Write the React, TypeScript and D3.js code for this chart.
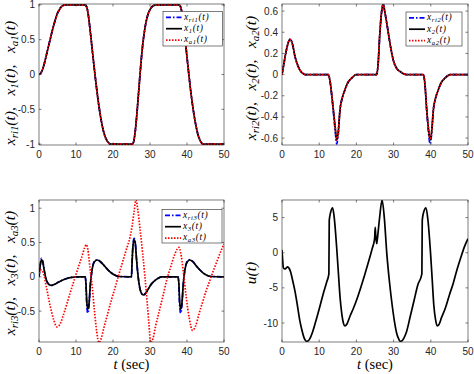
import React from 'react';
import * as d3 from 'd3';

const W = 474;
const H = 374;
const xTicks = [0, 10, 20, 30, 40, 50];

// ---- panel 1: x_ri1, x_1, x_a1 (they sit on top of each other)
const t1 = [0, 0.5, 1, 1.5, 2, 2.5, 3, 3.5, 4, 4.5, 5, 5.5, 6, 6.5, 7, 12.4, 12.8, 13.2, 13.6, 14, 14.5, 15, 15.5, 16, 16.5, 17, 17.5, 18, 18.5, 19, 19.5,
  25.3, 25.6, 26, 26.4, 26.8, 27.2, 27.6, 28, 28.5, 29, 29.5, 30, 30.5, 31, 31.5,
  37.8, 38.2, 38.6, 39, 39.4, 39.9, 40.4, 40.9, 41.4, 41.9, 42.4, 42.9, 43.4, 43.9, 44.4, 50];
const x1 = [0, 0.02, 0.08, 0.17, 0.28, 0.39, 0.5, 0.61, 0.71, 0.8, 0.88, 0.93, 0.97, 0.99, 1, 1, 0.98, 0.9, 0.74, 0.55, 0.3, 0.06, -0.17, -0.38, -0.56, -0.71, -0.83, -0.91, -0.96, -0.99, -1,
  -1, -0.96, -0.82, -0.6, -0.34, -0.07, 0.19, 0.41, 0.62, 0.77, 0.87, 0.93, 0.97, 0.99, 1,
  1, 0.98, 0.9, 0.76, 0.57, 0.3, 0.05, -0.19, -0.4, -0.58, -0.73, -0.85, -0.93, -0.98, -1, -1];
const xr1 = x1;
const xa1 = x1;

// ---- panel 2
const t2 = [0, 0.5, 1, 1.5, 2.15, 2.8, 3.5, 4.2, 4.8, 5.5, 6.2, 7, 12.45, 12.9, 13.4, 13.8, 14.3, 14.7, 15.1, 15.6, 16.2, 16.9, 17.8, 18.7, 20,
  25.4, 25.8, 26.3, 26.8, 27.2, 27.6, 28.1, 28.6, 29.2, 29.9, 30.8, 31.7, 33.5,
  38.0, 38.4, 38.9, 39.4, 39.8, 40.2, 40.7, 41.3, 42.0, 42.9, 43.8, 45.2, 50];
const x2 = [0, 0.1, 0.2, 0.28, 0.334, 0.29, 0.17, 0.09, 0.044, 0.015, 0, 0, 0, -0.06, -0.2, -0.33, -0.5, -0.616, -0.55, -0.33, -0.22, -0.145, -0.07, -0.034, 0,
  0, 0.08, 0.39, 0.6, 0.667, 0.6, 0.5, 0.39, 0.26, 0.139, 0.06, 0.03, 0,
  0, -0.08, -0.33, -0.52, -0.616, -0.55, -0.33, -0.22, -0.145, -0.07, -0.034, 0, 0];
const xr2 = [0, 0.1, 0.2, 0.28, 0.334, 0.29, 0.17, 0.09, 0.044, 0.015, 0, 0, 0, -0.06, -0.21, -0.35, -0.53, -0.655, -0.57, -0.33, -0.22, -0.145, -0.07, -0.034, 0,
  0, 0.08, 0.39, 0.6, 0.667, 0.6, 0.5, 0.39, 0.26, 0.139, 0.06, 0.03, 0,
  0, -0.08, -0.34, -0.55, -0.655, -0.57, -0.33, -0.22, -0.145, -0.07, -0.034, 0, 0];
const xa2 = x2;

// ---- panel 3
const t3 = [0, 0.3, 0.65, 1.0, 1.4, 1.9, 2.5, 3.3, 4.2, 5.2, 6.3, 7.5, 8.8, 10, 12.5, 12.7, 12.9, 13.2, 13.5, 13.9, 14.4, 15.0, 15.8, 16.6, 17.5, 18.5, 19.5, 20.5, 21.5,
  25.0, 25.15, 25.4, 25.7, 26.0, 26.3, 26.7, 27.2, 27.7, 28.2, 28.8, 29.5, 30.3, 31.2, 32.2, 33.2,
  37.6, 37.8, 38.0, 38.3, 38.6, 39.0, 39.5, 40.1, 40.8, 41.6, 42.5, 43.5, 44.5, 45.5, 46.5, 50];
const x3 = [0, 0.15, 0.25, 0.22, 0.1, -0.03, -0.1, -0.125, -0.11, -0.08, -0.05, -0.025, -0.008, 0, 0, -0.1, -0.35, -0.47, -0.4, -0.1, 0.12, 0.22, 0.245, 0.22, 0.17, 0.11, 0.06, 0.025, 0.005,
  0, 0.2, 0.45, 0.54, 0.5, 0.3, 0.05, -0.15, -0.24, -0.265, -0.24, -0.18, -0.11, -0.06, -0.02, 0,
  0, -0.1, -0.35, -0.47, -0.4, -0.1, 0.12, 0.22, 0.245, 0.22, 0.16, 0.1, 0.05, 0.02, 0.005, 0];
const xr3 = [0, 0.16, 0.27, 0.23, 0.1, -0.03, -0.1, -0.125, -0.11, -0.08, -0.05, -0.025, -0.008, 0, 0, -0.12, -0.4, -0.53, -0.43, -0.1, 0.12, 0.23, 0.25, 0.22, 0.17, 0.11, 0.06, 0.025, 0.005,
  0, 0.21, 0.47, 0.56, 0.51, 0.3, 0.05, -0.15, -0.24, -0.265, -0.24, -0.18, -0.11, -0.06, -0.02, 0,
  0, -0.12, -0.4, -0.53, -0.43, -0.1, 0.12, 0.23, 0.25, 0.22, 0.16, 0.1, 0.05, 0.02, 0.005, 0];
const ta3 = [0, 0.6, 1.2, 2, 3, 4, 4.8, 5.6, 6.5, 7.5, 8.5, 9.5, 10.5, 11.5, 12.3, 12.8, 13.2, 13.8, 14.3, 15, 15.6, 16.2, 16.8, 17.5, 18.5, 19.5, 20.5, 21.4, 22.5, 23.5, 24.6, 25.2, 25.7, 26.2,
  26.7, 27.3, 28, 28.6, 29.2, 29.7, 30.2, 30.8, 31.5, 32.5, 33.5, 34.5, 35.5, 36.5, 37.3, 37.8, 38.3, 39, 39.8, 40.6, 41.5, 42.3, 43.2, 44.2, 45.2, 46.2, 47.2, 48.2, 49.2, 50];
const xa3 = [0.05, 0.1, 0.05, -0.15, -0.42, -0.63, -0.73, -0.7, -0.57, -0.4, -0.22, -0.05, 0.12, 0.28, 0.42, 0.47, 0.4, 0.12, -0.1, -0.5, -0.8, -0.96, -0.9, -0.75, -0.55, -0.35, -0.17, 0, 0.2, 0.38, 0.58, 0.75, 0.95, 1.12,
  0.98, 0.7, 0.35, 0.02, -0.35, -0.68, -0.96, -0.9, -0.72, -0.5, -0.28, -0.05, 0.13, 0.3, 0.4, 0.43, 0.35, 0.08, -0.3, -0.6, -0.78, -0.72, -0.55, -0.37, -0.2, -0.05, 0.1, 0.24, 0.38, 0.48];

// ---- panel 4: u(t)
const t4 = [0, 0.15, 0.35, 0.7, 1.1, 1.5, 1.9, 2.3, 2.8, 3.5, 4.2, 4.8, 5.3, 5.8, 6.2, 6.6, 7.1, 7.6, 8.2, 9.0, 10.0, 11.0, 12.0, 12.6, 12.7, 13.1, 13.6, 14.0, 14.7, 15.2, 15.6, 16.1, 16.5, 16.9,
  17.5, 18.3, 19.2, 20.2, 21.2, 22.2, 23.2, 24.2, 24.9, 25.05, 25.2, 25.45, 25.55, 26.2, 26.9, 27.5, 28.2, 28.9, 29.6, 30.3, 30.9, 31.4, 31.8, 32.3, 32.8, 33.5, 34.5, 35.5, 36.5, 37.6,
  37.7, 38.1, 38.7, 39.2, 39.9, 40.4, 40.8, 41.3, 41.7, 42.2, 42.9, 43.9, 45, 46, 47, 48, 49, 50];
const u = [0.4, -0.8, -2.1, -2.3, -2.2, -2.0, -2.2, -2.7, -3.8, -5.5, -7.7, -9.7, -10.9, -11.9, -12.4, -12.6, -12.5, -12.1, -11.3, -9.9, -8.0, -6.0, -4.2, -3.0, 4.6, 5.8, 6.4, 5.2, 0.7, -3.2, -6.3, -8.8, -10.0, -10.4,
  -10.1, -9.0, -7.9, -6.5, -4.9, -3.2, -1.4, 0.5, 2.0, 3.6, 2.5, 1.3, 1.6, 4.8, 7.5, 5.0, -0.3, -4.2, -7.4, -10.0, -11.6, -12.3, -12.6, -12.5, -12.1, -11.2, -9.0, -6.8, -4.6, -3.0,
  4.6, 5.8, 6.4, 4.8, 0.2, -4.0, -7.4, -9.6, -10.4, -10.2, -9.2, -7.9, -6.0, -4.4, -2.5, -0.8, 0.8, 2.0];

type Pt = [number, number];
const zip = (t: number[], v: number[]): Pt[] => t.map((d, i) => [d, v[i]]);

type Part = [string, boolean];
const FONT_SANS = 'Liberation Sans, Arial, sans-serif';
const FONT_MATH = 'Liberation Serif, Times New Roman, serif';
const AX = '#262626';
const GAP = '\u00a0\u00a0\u00a0';

const BLUE = { color: '#0000ff', dash: '5,2,1.5,2', width: 1.7 };
const BLACK = { color: '#000000', dash: undefined, width: 1.7 };
const RED = { color: '#ff0000', dash: '1.5,1.5', width: 1.7 };

interface Series { pts: Pt[]; color: string; dash?: string; width: number; }

function MathText({ parts, size, ...rest }: { parts: Part[]; size: number; [k: string]: any }) {
  const shift = size * 0.22;
  let down = false;
  return (
    <text fontFamily={FONT_MATH} fontStyle="italic" fontSize={size} fill="#000" {...rest}>
      {parts.map(([s, sub], i) => {
        let dy = 0;
        if (sub && !down) { dy = shift; down = true; }
        else if (!sub && down) { dy = -shift; down = false; }
        return (
          <tspan key={i} dy={dy} fontSize={sub ? size * 0.7 : size}>{s}</tspan>
        );
      })}
    </text>
  );
}

interface PanelProps {
  id: string;
  left: number; right: number; top: number; bottom: number;
  yDomain: [number, number];
  yTicks: number[];
  series: Series[];
  legend?: { x0: number; x1: number; y0: number; y1: number; labels: Part[][] };
  ylabel: Part[];
  ylabelX: number;
  ylabelY: number;
  xlabel?: boolean;
}

function Panel(p: PanelProps) {
  const x = d3.scaleLinear().domain([0, 50]).range([p.left, p.right]);
  const y = d3.scaleLinear().domain(p.yDomain).range([p.bottom, p.top]);
  const line = d3.line<Pt>().x(d => x(d[0])).y(d => y(d[1])).curve(d3.curveMonotoneX);
  const tl = 2.5;
  return (
    <g>
      <defs>
        <clipPath id={p.id}>
          <rect x={p.left} y={p.top} width={p.right - p.left} height={p.bottom - p.top} />
        </clipPath>
      </defs>
      <rect x={p.left} y={p.top} width={p.right - p.left} height={p.bottom - p.top} fill="#fff" />
      <g clipPath={`url(#${p.id})`}>
        {p.series.map((s, i) => (
          <path key={i} d={line(s.pts) || ''} fill="none" stroke={s.color} strokeWidth={s.width}
            strokeDasharray={s.dash} strokeLinejoin="round" />
        ))}
      </g>
      {xTicks.map(t => (
        <g key={'x' + t}>
          <line x1={x(t)} x2={x(t)} y1={p.bottom} y2={p.bottom - tl} stroke={AX} strokeWidth={0.6} />
          <line x1={x(t)} x2={x(t)} y1={p.top} y2={p.top + tl} stroke={AX} strokeWidth={0.6} />
          <text x={x(t)} y={p.bottom + 13} textAnchor="middle" fontFamily={FONT_SANS} fontSize={10} fill={AX}>{t}</text>
        </g>
      ))}
      {p.yTicks.map(t => (
        <g key={'y' + t}>
          <line x1={p.left} x2={p.left + tl} y1={y(t)} y2={y(t)} stroke={AX} strokeWidth={0.6} />
          <line x1={p.right} x2={p.right - tl} y1={y(t)} y2={y(t)} stroke={AX} strokeWidth={0.6} />
          <text x={p.left - 4} y={y(t) + 3.5} textAnchor="end" fontFamily={FONT_SANS} fontSize={10} fill={AX}>{String(t)}</text>
        </g>
      ))}
      <rect x={p.left} y={p.top} width={p.right - p.left} height={p.bottom - p.top} fill="none" stroke={AX} strokeWidth={0.6} />
      {p.legend && (
        <g>
          <rect x={p.legend.x0} y={p.legend.y0} width={p.legend.x1 - p.legend.x0} height={p.legend.y1 - p.legend.y0}
            fill="#fff" stroke={AX} strokeWidth={0.6} />
          {p.legend.labels.map((lab, i) => {
            const s = p.series[i];
            const ry = p.legend!.y0 + 5.8 + i * 11.4;
            return (
              <g key={i}>
                <line x1={p.legend!.x0 + 3} x2={p.legend!.x0 + 19} y1={ry} y2={ry} stroke={s.color}
                  strokeWidth={s.width} strokeDasharray={s.dash} />
                <MathText parts={lab} size={9.5} letterSpacing={0.6} x={p.legend!.x0 + 21} y={ry + 2.3} />
              </g>
            );
          })}
        </g>
      )}
      <MathText parts={p.ylabel} size={15.5} textAnchor="middle"
        transform={`translate(${p.ylabelX},${p.ylabelY}) rotate(-90)`} />
      {p.xlabel && (
        <text x={(p.left + p.right) / 2} y={369} textAnchor="middle" fontFamily={FONT_MATH} fontSize={14.5} fill="#000">
          <tspan fontStyle="italic">t</tspan>{'\u00a0'}(sec)
        </text>
      )}
    </g>
  );
}

const mk = (a: string, i: string): Part[] => [['x', false], [a + i, true], ['(t)', false]];
const yl = (i: string): Part[] => [['x', false], ['ri' + i, true], ['(t),' + GAP + 'x', false], [i, true], ['(t),' + GAP + 'x', false], ['a' + i, true], ['(t)', false]];

export default function App() {
  return (
    <svg width={W} height={H} style={{ position: 'absolute', left: 0, top: 0, background: '#fff' }}>
      <Panel id="c1" left={39} right={224} top={4} bottom={145} yDomain={[-1.012, 1.012]} yTicks={[-1, -0.5, 0, 0.5, 1]}
        series={[{ pts: zip(t1, xr1), ...BLUE }, { pts: zip(t1, x1), ...BLACK }, { pts: zip(t1, xa1), ...RED }]}
        legend={{ x0: 163, x1: 222.5, y0: 11.5, y1: 46, labels: [mk('ri', '1'), mk('', '1'), mk('a', '1')] }}
        ylabel={yl('1')} ylabelX={15} ylabelY={83} />
      <Panel id="c2" left={282} right={468} top={4} bottom={145} yDomain={[-0.665, 0.667]} yTicks={[-0.6, -0.4, -0.2, 0, 0.2, 0.4, 0.6]}
        series={[{ pts: zip(t2, xr2), ...BLUE }, { pts: zip(t2, x2), ...BLACK }, { pts: zip(t2, xa2), ...RED }]}
        legend={{ x0: 406, x1: 462, y0: 12, y1: 46, labels: [mk('ri', '2'), mk('', '2'), mk('a', '2')] }}
        ylabel={yl('2')} ylabelX={256} ylabelY={78} />
      <Panel id="c3" left={39} right={224} top={200} bottom={342} yDomain={[-0.95, 1.12]} yTicks={[-0.5, 0, 0.5, 1]}
        series={[{ pts: zip(t3, xr3), ...BLUE }, { pts: zip(t3, x3), ...BLACK }, { pts: zip(ta3, xa3), ...RED }]}
        legend={{ x0: 162, x1: 222, y0: 209.5, y1: 243, labels: [mk('ri', '3'), mk('', '3'), mk('a', '3')] }}
        ylabel={yl('3')} ylabelX={15} ylabelY={273} xlabel />
      <Panel id="c4" left={282} right={468} top={200} bottom={342} yDomain={[-12.7, 7.5]} yTicks={[-10, -5, 0, 5]}
        series={[{ pts: zip(t4, u), ...BLACK }]}
        ylabel={[['u(t)', false]]} ylabelX={256} ylabelY={273} xlabel />
    </svg>
  );
}
